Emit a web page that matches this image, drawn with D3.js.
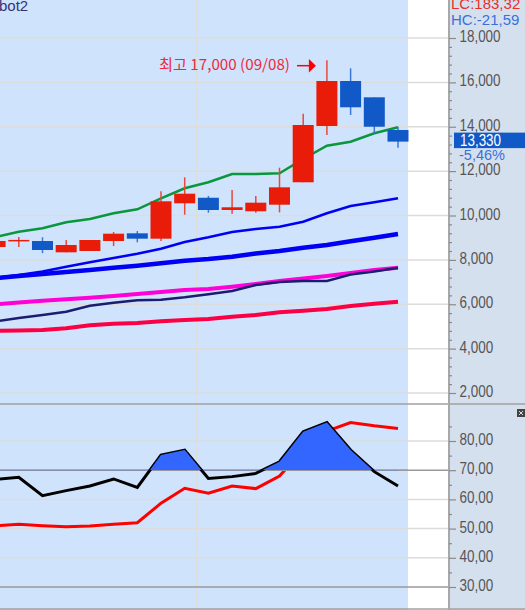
<!DOCTYPE html>
<html>
<head>
<meta charset="utf-8">
<script src="https://cdn.jsdelivr.net/npm/d3@7"></script>
<style>
html, body { margin: 0; padding: 0; background: #fff; overflow: hidden; }
svg { display: block; }
text { font-family: "Liberation Sans", sans-serif; }
</style>
</head>
<body>
<div id="graphe"></div>
<script>
"use strict";

// donnees
var opens  = [8580, 8850, 8850, 8340, 8400, 8850, 9197, 8955, 10550, 10800, 10248, 10190, 10487, 11497, 14034, 16062, 15327, 13854];
var highs  = [8900, 9031, 9020, 8896, 8896, 9256, 9300, 11090, 11720, 10880, 11150, 10880, 12155, 14588, 17000, 16634, 15327, 14000];
var lows   = [8550, 8580, 8300, 8340, 8400, 8625, 8790, 8850, 10036, 10127, 10080, 10127, 10140, 11497, 13628, 14530, 13720, 13056];
var closes = [8850, 8900, 8445, 8670, 8896, 9180, 8955, 10640, 10983, 10248, 10370, 10578, 11270, 14079, 16062, 14877, 14000, 13330];

var maVert    = [9030, 9270, 9423, 9694, 9842, 10100, 10280, 10775, 11226, 11497, 11870, 11870, 11900, 12547, 13146, 13326, 13705, 13975];
var maBleu    = [7184, 7318, 7476, 7693, 7891, 8085, 8278, 8504, 8806, 9018, 9257, 9392, 9495, 9721, 10100, 10428, 10595, 10775];
var maBleuFort = [7170, 7273, 7363, 7453, 7544, 7647, 7738, 7846, 7963, 8040, 8143, 8287, 8400, 8549, 8670, 8837, 8999, 9166];
var maMagenta = [5988, 6079, 6160, 6223, 6296, 6372, 6462, 6552, 6642, 6688, 6791, 6913, 7048, 7160, 7273, 7408, 7544, 7647];
var maMarine  = [5223, 5380, 5516, 5665, 5935, 6070, 6178, 6205, 6313, 6449, 6597, 6868, 7003, 7048, 7048, 7341, 7476, 7647];
var maRouge   = [4804, 4818, 4840, 4916, 5051, 5124, 5155, 5232, 5291, 5336, 5440, 5516, 5638, 5709, 5786, 5921, 6025, 6115];

var signal = [50.9, 51.5, 51.0, 50.65, 50.9, 51.5, 52.0, 58.7, 63.8, 62.1, 64.6, 63.7, 68.0, 76.9, 83.4, 86.3, 85.2, 84.3];
var oscill = [66.8, 67.6, 61.3, 63.0, 64.6, 67.0, 64.1, 75.2, 76.9, 67.2, 67.8, 68.9, 72.9, 83.2, 86.3, 76.9, 69.5, 64.6];

var prixTicks = [2000, 4000, 6000, 8000, 10000, 12000, 14000, 16000, 18000];
var oscTicks = [30, 40, 50, 60, 70, 80];
var oscForts = [30, 70];
var dernier = 13330;
var variation = "-5,46%";
var texteHaut = "최고 17,000 (09/08)";
var indexHaut = 14;

var L = 525, H = 610;
var finFond = 408, axeX = 449;
var jours = d3.range(opens.length);

var svg = d3.select("#graphe").append("svg").attr("width", L).attr("height", H);

var x = d3.scaleLinear().domain([0, 17]).range([-4.9, 398]);
var yPrix = d3.scaleLinear().domain([2000, 18000]).range([393, 38]);
var yOsc = d3.scaleLinear().domain([30, 80]).range([587, 441]);

var virgule = d3.formatLocale({ decimal: ",", thousands: ".", grouping: [3], currency: ["", ""] });

// largeur des chiffres etroits de l'original
function largeur(s) {
	return s.replace(/[^0-9]/g, "").length * 7.3 + s.replace(/[0-9]/g, "").length * 4.5;
}

// fonds
svg.append("rect").attr("width", finFond).attr("height", H).attr("fill", "#cfe4fc");
svg.append("rect").attr("x", axeX).attr("width", L - axeX).attr("height", H).attr("fill", "#d5e0ee");

// grilles
svg.append("line").attr("x1", 196.5).attr("x2", 196.5).attr("y1", 0).attr("y2", H)
.attr("stroke", "#dcdcd8").attr("stroke-width", 1);

svg.append("g").selectAll("line")
.data(prixTicks)
.enter()
	.append("line")
	.attr("x1", 0).attr("x2", axeX)
	.attr("y1", d => yPrix(d)).attr("y2", d => yPrix(d))
	.attr("stroke", "#dcdcdc").attr("stroke-width", 1.5);

svg.append("g").selectAll("line")
.data(oscTicks)
.enter()
	.append("line")
	.attr("x1", 0).attr("x2", axeX)
	.attr("y1", d => yOsc(d)).attr("y2", d => yOsc(d))
	.attr("stroke", d => oscForts.includes(d) ? "#9a9a9a" : "#dcdcdc")
	.attr("stroke-width", 1.5);

// separations
[404, 609].forEach(function (v) {
	svg.append("line").attr("x1", 0).attr("x2", L).attr("y1", v).attr("y2", v)
	.attr("stroke", "#a0a0a0").attr("stroke-width", 1.5);
});
svg.append("line").attr("x1", axeX).attr("x2", axeX).attr("y1", 0).attr("y2", H)
.attr("stroke", "#a8a8a8").attr("stroke-width", 2);

// clips du panneau du bas
var defs = svg.append("defs");
defs.append("clipPath").attr("id", "clipOsc")
.append("rect").attr("x", 0).attr("y", 405).attr("width", finFond).attr("height", 204);
defs.append("clipPath").attr("id", "clipAire")
.append("rect").attr("x", 0).attr("y", 405).attr("width", finFond).attr("height", yOsc(70) - 405);

// moyennes mobiles
function tracer(valeurs, couleur, epaisseur) {
	svg.append("path")
	.attr("d", d3.line().x((d, i) => x(i)).y(d => yPrix(d))(valeurs))
	.attr("fill", "none")
	.attr("stroke", couleur)
	.attr("stroke-width", epaisseur);
}
tracer(maRouge, "#fb0045", 4);
tracer(maMagenta, "#ff00d8", 4);
tracer(maMarine, "#1c1c70", 2.5);
tracer(maBleuFort, "#0000f4", 4.5);
tracer(maBleu, "#0000f4", 2.5);
tracer(maVert, "#0a963c", 2.5);

// bougies
var rouge = "#e81c08", bleu = "#1259c8";
function couleurBougie(i) { return closes[i] >= opens[i] ? rouge : bleu; }

var bougies = svg.append("g").selectAll("g")
.data(jours)
.enter()
	.append("g");

bougies.append("line")
.attr("x1", i => x(i)).attr("x2", i => x(i))
.attr("y1", i => yPrix(highs[i])).attr("y2", i => yPrix(lows[i]))
.attr("stroke", i => closes[i] >= opens[i] ? "#e8483a" : "#3a78d8")
.attr("stroke-width", 1.5);

bougies.append("rect")
.attr("x", i => x(i) - 10.5)
.attr("width", 21)
.attr("y", i => yPrix(Math.max(opens[i], closes[i])))
.attr("height", i => Math.max(1.5, Math.abs(yPrix(opens[i]) - yPrix(closes[i]))))
.attr("fill", couleurBougie);

// oscillateur
var gOsc = svg.append("g").attr("clip-path", "url(#clipOsc)");
var ligneOsc = d3.line().x((d, i) => x(i)).y(d => yOsc(d));

gOsc.append("path")
.attr("d", ligneOsc(signal))
.attr("fill", "none").attr("stroke", "#ff0000").attr("stroke-width", 3);

// aire au-dessus de 70, coupee par le clip
var aire70 = d3.area().x((d, i) => x(i)).y0(yOsc(70)).y1(d => yOsc(d));
svg.append("path")
.attr("clip-path", "url(#clipAire)")
.attr("d", aire70(oscill))
.attr("fill", "#3366ff");

gOsc.append("line").attr("x1", 0).attr("x2", finFond).attr("y1", yOsc(70)).attr("y2", yOsc(70))
.attr("stroke", "#9a9a9a").attr("stroke-width", 1.5);

gOsc.append("path")
.attr("d", ligneOsc(oscill))
.attr("fill", "none").attr("stroke", "#000").attr("stroke-width", 3);

// axes
function axe(echelle, valeurs, taille, format) {
	var g = svg.append("g")
	.attr("transform", "translate(" + axeX + ",0)")
	.call(d3.axisRight(echelle).tickValues(valeurs).tickSize(taille).tickFormat(format));
	g.select(".domain").remove();
	g.selectAll("line").attr("stroke", "#8a8a8a").attr("stroke-width", 1.2);
	g.selectAll("text")
	.attr("fill", "#555").attr("x", 10.5).attr("dy", "0.22em")
	.style("font-size", "16px")
	.attr("lengthAdjust", "spacingAndGlyphs")
	.attr("textLength", function () { return largeur(this.textContent); });
	return g;
}
axe(yPrix, prixTicks, 7, d3.format(","));
axe(yPrix, d3.range(2000, 18000, 400).filter(d => d % 2000), 3, "");
axe(yOsc, oscTicks, 7, virgule.format(".2f"));
axe(yOsc, [35, 45, 55, 65, 75, 85], 3, "");

// textes
svg.append("text").attr("x", -1).attr("y", 11).attr("fill", "#33337a")
.style("font-size", "15px").text("bot2");
svg.append("text").attr("x", 451).attr("y", 9).attr("fill", "#e8302a")
.style("font-size", "15px").text("LC:183,32");
svg.append("text").attr("x", 451).attr("y", 25).attr("fill", "#3a70d8")
.style("font-size", "15px").text("HC:-21,59");

// dernier cours
svg.append("rect").attr("x", 454).attr("y", yPrix(dernier) - 9).attr("width", L - 454).attr("height", 15.5)
.attr("fill", bleu);
svg.append("text").attr("x", 460).attr("y", yPrix(dernier) + 4.5).attr("fill", "#fff")
.style("font-size", "16px")
.attr("lengthAdjust", "spacingAndGlyphs").attr("textLength", 41)
.text(d3.format(",")(dernier));
svg.append("text").attr("x", 459).attr("y", 160).attr("fill", "#3a70d8")
.style("font-size", "15px")
.attr("lengthAdjust", "spacingAndGlyphs").attr("textLength", 46)
.text(variation);

// annotation du plus haut
svg.append("text").attr("x", 159).attr("y", yPrix(highs[indexHaut]) + 9.5).attr("fill", "#f0283c")
.style("font-family", "'Noto Sans CJK KR', sans-serif")
.style("font-size", "15px")
.attr("lengthAdjust", "spacingAndGlyphs").attr("textLength", 131)
.text(texteHaut);
var yFleche = yPrix(highs[indexHaut]) + 5.5;
svg.append("line").attr("x1", 297).attr("x2", 311).attr("y1", yFleche).attr("y2", yFleche)
.attr("stroke", "#ff0000").attr("stroke-width", 1.5);
svg.append("path")
.attr("d", d3.line()([[x(indexHaut) - 18, yFleche - 6.8], [x(indexHaut) - 11, yFleche], [x(indexHaut) - 18, yFleche + 6.8]]))
.attr("fill", "#ff0000");

// petit bouton du panneau
svg.append("rect").attr("x", 517).attr("y", 409).attr("width", 8).attr("height", 8).attr("fill", "#444");
svg.append("path").attr("d", "M519,411L523,415M523,411L519,415").attr("stroke", "#ddd").attr("stroke-width", 1);
</script>
</body>
</html>
